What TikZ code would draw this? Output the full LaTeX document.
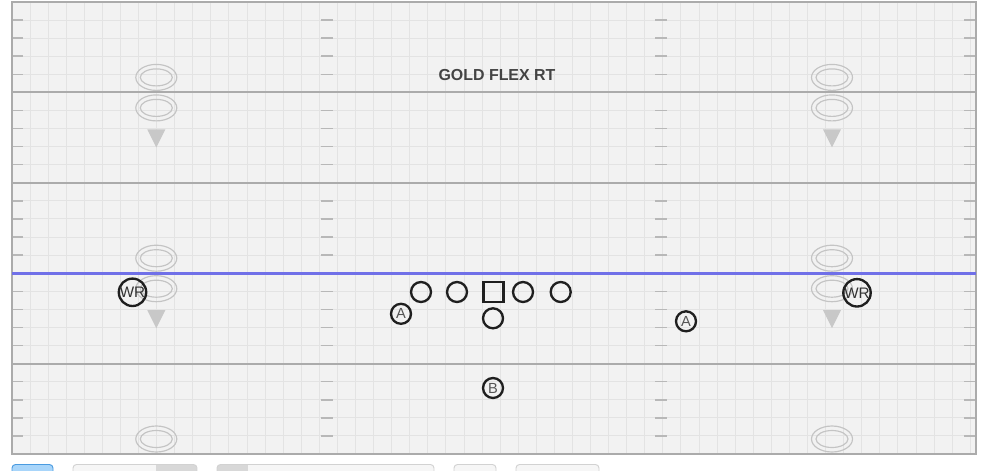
\documentclass[tikz,border=0pt]{standalone}
\usepackage{fontspec}
\setmainfont{Liberation Sans}
\definecolor{fieldbg}{HTML}{F2F2F2}
\definecolor{gridc}{HTML}{E3E3E3}
\definecolor{yardc}{HTML}{ABABAB}
\definecolor{hashc}{HTML}{B8B8B8}
\definecolor{ovalc}{HTML}{C4C4C4}
\definecolor{tric}{HTML}{C8C8C8}
\definecolor{losc}{RGB}{112,112,232}
\definecolor{titlec}{HTML}{444444}
\definecolor{labelc}{HTML}{555555}
\definecolor{btnblue}{HTML}{A8D5FA}
\definecolor{btnblueb}{HTML}{4A9BE0}
\definecolor{btnfill}{HTML}{F6F6F6}
\definecolor{btnborder}{HTML}{D2D2D2}
\definecolor{btndark}{HTML}{D8D8D8}
\begin{document}
\begin{tikzpicture}[x=0.03cm,y=-0.03cm,
  gridline/.style={draw=gridc,line width=0.8pt},
  yardline/.style={draw=yardc,line width=1.7pt},
  hashtick/.style={draw=hashc,line width=1.3pt},
  numoval/.style={draw=ovalc,line width=1pt},
  dirtri/.style={fill=tric,draw=none},
  losline/.style={draw=losc,line width=2.5pt},
  player/.style={circle,draw=black!88,line width=2pt,minimum size=0.6cm,inner sep=0pt,
     text=labelc,font=\fontsize{12.5}{12.5}\selectfont},
  centerbox/.style={rectangle,draw=black!88,line width=2pt,minimum size=0.6cm,inner sep=0pt},
  wrlabel/.style={player,text=black!80,font=\fontsize{13}{13}\selectfont},
  titletext/.style={text=titlec,font=\bfseries\fontsize{13.6}{16}\selectfont},
  uibtn/.style={fill=btnfill,draw=btnborder,line width=0.8pt,rounded corners=3pt},
]
\useasboundingbox (0,0) rectangle (1000,470);
\fill[white] (0,0) rectangle (1000,470);
% field
\fill[fieldbg] (12,2) rectangle (976,454);
\foreach \k in {1,...,53} {
  \draw[gridline] ({12+18.08*\k},2) -- ({12+18.08*\k},454);
}
\foreach \k in {1,...,24} {
  \draw[gridline] (12,{2+18.08*\k}) -- (976,{2+18.08*\k});
}
% hash ticks
\foreach \k in {1,2,3,4,6,7,8,9,11,12,13,14,16,17,18,19,21,22,23,24} {
  \draw[hashtick] (12,{2+18.08*\k}) -- (23,{2+18.08*\k});
  \draw[hashtick] (321,{2+18.08*\k}) -- (333,{2+18.08*\k});
  \draw[hashtick] (655,{2+18.08*\k}) -- (667,{2+18.08*\k});
  \draw[hashtick] (964,{2+18.08*\k}) -- (975,{2+18.08*\k});
}
% yard lines
\foreach \k in {0,1,2,3,4,5} {
  \draw[yardline] (12,{2+90.4*\k}) -- (976,{2+90.4*\k});
}
\draw[yardline] (12,1) -- (12,455);
\draw[yardline] (976,1) -- (976,455);
% yard numbers (ovals) and direction triangles
\foreach \cx in {156.3,832} {
  \foreach \ly in {92.4,273.2} {
    \foreach \dy in {-15,15.5} {
      \draw[numoval] (\cx,{\ly+\dy}) ellipse [x radius=0.615cm, y radius=0.39cm];
      \draw[numoval] (\cx,{\ly+\dy}) ellipse [x radius=0.48cm, y radius=0.255cm];
    }
    \fill[dirtri] ({\cx-9},{\ly+37}) -- ({\cx+9},{\ly+37}) -- (\cx,{\ly+55}) -- cycle;
  }
  \draw[numoval] (\cx,439) ellipse [x radius=0.615cm, y radius=0.39cm];
  \draw[numoval] (\cx,439) ellipse [x radius=0.48cm, y radius=0.255cm];
}
% line of scrimmage
\draw[losline] (12,273.4) -- (976,273.4);
% title
\node[titletext] (title) at (497,75.5) {GOLD FLEX RT};
% players
\node[player] (lt) at (421,292) {};
\node[player] (lg) at (457,292) {};
\node[centerbox] (c) at (493.5,292) {};
\node[player] (rg) at (523,292) {};
\node[player] (rt) at (560.7,292) {};
\node[player] (qb) at (493,318.3) {};
\node[player] (al) at (401,313.8) {A};
\node[player] (ar) at (686,321.3) {A};
\node[player] (b) at (493,388) {B};
\node[wrlabel] (wrl) at (132.5,292.3) {WR};
\node[wrlabel] (wrr) at (857,292.8) {WR};
% partial UI controls below the field
\draw[fill=btnblue,draw=btnblueb,line width=0.8pt,rounded corners=3pt] (12,464.5) rectangle (53,480);
\begin{scope}
\clip[rounded corners=3pt] (73,464.5) rectangle (197,480);
\fill[btnfill] (73,464.5) rectangle (197,480);
\fill[btndark] (156,464.5) rectangle (197,480);
\end{scope}
\draw[draw=btnborder,line width=0.8pt,rounded corners=3pt] (73,464.5) rectangle (197,480);
\begin{scope}
\clip[rounded corners=3pt] (217,464.5) rectangle (434,480);
\fill[btnfill] (217,464.5) rectangle (434,480);
\fill[btndark] (217,464.5) rectangle (248,480);
\end{scope}
\draw[draw=btnborder,line width=0.8pt,rounded corners=3pt] (217,464.5) rectangle (434,480);
\draw[uibtn] (454,464.5) rectangle (496,480);
\draw[uibtn] (516,464.5) rectangle (599,480);
\end{tikzpicture}
\end{document}
